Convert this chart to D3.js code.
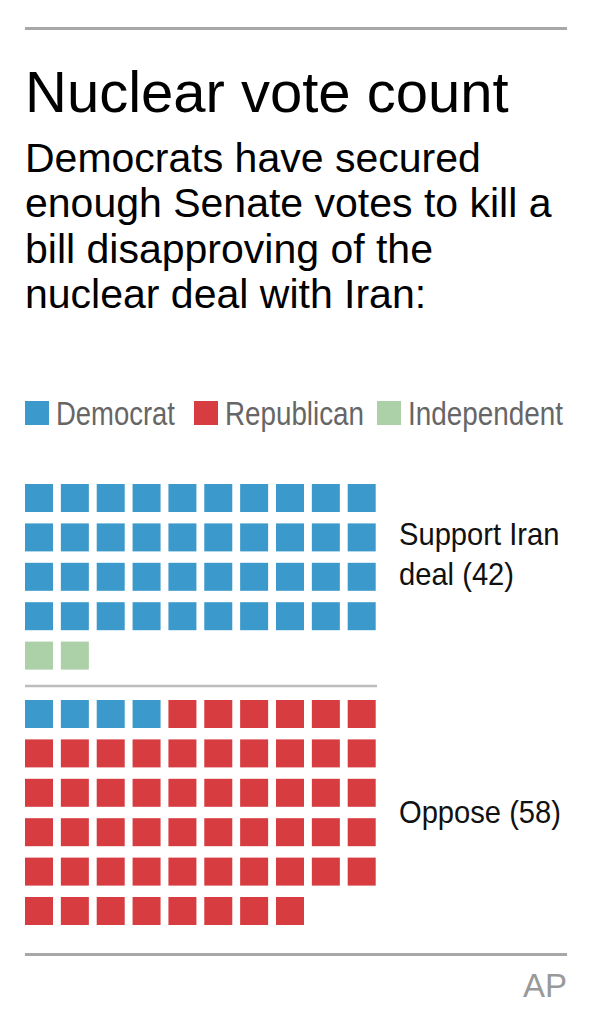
<!DOCTYPE html>
<html>
<head>
<meta charset="utf-8">
<script src="https://cdn.jsdelivr.net/npm/d3@7"></script>
<style>
  html, body { margin: 0; padding: 0; background: #fff; }
  svg { display: block; font-family: "Liberation Sans", Arial, Helvetica, sans-serif; }
</style>
</head>
<body>
<div id="chart"></div>
<script>
// ---- Data ----
const title = "Nuclear vote count";
const subtitleLines = ["Democrats have secured", "enough Senate votes to kill a", "bill disapproving of the", "nuclear deal with Iran:"];
const parties = ["Democrat", "Republican", "Independent"];
const partyColors = ["#3b9acb", "#d73c41", "#acd0a8"];
const groupNames = ["Support", "Oppose"];
const groupLabels = [["Support Iran", "deal (42)"], ["Oppose (58)"]];
const supportVotes = [40, 0, 2];   // Democrat, Republican, Independent
const opposeVotes = [4, 54, 0];
const perRow = 10;
const source = "AP";

// ---- Layout ----
const W = 590, H = 1024;
const svg = d3.select("#chart").append("svg").attr("width", W).attr("height", H);

const color = d3.scaleOrdinal().domain(parties).range(partyColors);
const xCol = d3.scaleLinear().domain([0, perRow - 1]).range([25, 347.7]);
const cell = 28;
const rowPitch = 39.4;

// top rule
svg.append("line").attr("x1", 25).attr("x2", 567).attr("y1", 28.5).attr("y2", 28.5)
  .attr("stroke", "#a8a8a8").attr("stroke-width", 3);

// title
svg.append("text").attr("x", 25).attr("y", 111.5).attr("font-size", 58).attr("fill", "#000").text(title);

// subtitle
const subBase = [172, 217.3, 262.6, 308];
svg.append("g").selectAll("text").data(subtitleLines).join("text")
  .attr("x", 25).attr("y", (d, i) => subBase[i]).attr("font-size", 41).attr("fill", "#000").text(d => d);

// legend
const legendX = [25, 194, 377];
const legendW = [119, 139, 155];
const lg = svg.append("g").selectAll("g").data(parties).join("g")
  .attr("transform", (d, i) => `translate(${legendX[i]},0)`);
lg.append("rect").attr("x", 0).attr("y", 401).attr("width", 24).attr("height", 24).attr("fill", d => color(d));
lg.append("text").attr("x", 0).attr("y", 0).attr("font-size", 33).attr("fill", "#666")
  .text(d => d)
  .each(function (d, i) {
    const w = this.getComputedTextLength();
    const s = legendW[i] / w;
    d3.select(this).attr("transform", `translate(31,424.5) scale(${s},1)`);
  });

// build squares
function expand(votes) {
  const out = [];
  parties.forEach((p, i) => { for (let k = 0; k < votes[i]; k++) out.push(p); });
  return out;
}
const groups = [
  { name: groupNames[0], squares: expand(supportVotes), top: 484, labels: groupLabels[0], labelBase: [545, 585] },
  { name: groupNames[1], squares: expand(opposeVotes), top: 700, labels: groupLabels[1], labelBase: [823.3] }
];

groups.forEach(g => {
  const gg = svg.append("g");
  gg.selectAll("rect").data(g.squares).join("rect")
    .attr("x", (d, i) => xCol(i % perRow))
    .attr("y", (d, i) => g.top + Math.floor(i / perRow) * rowPitch)
    .attr("width", cell).attr("height", cell)
    .attr("fill", d => color(d));
  gg.selectAll("text").data(g.labels).join("text")
    .attr("x", 0).attr("y", 0)
    .attr("font-size", 31).attr("fill", "#111").text(d => d)
    .attr("transform", (d, i) => `translate(399,${g.labelBase[i]}) scale(0.94,1)`);
});

// divider between groups
svg.append("line").attr("x1", 25).attr("x2", 377).attr("y1", 686).attr("y2", 686)
  .attr("stroke", "#bdbdbd").attr("stroke-width", 2.5);

// bottom rule
svg.append("line").attr("x1", 25).attr("x2", 567).attr("y1", 954.5).attr("y2", 954.5)
  .attr("stroke", "#a8a8a8").attr("stroke-width", 3);

// source
svg.append("text").attr("x", 567).attr("y", 997).attr("text-anchor", "end")
  .attr("font-size", 33).attr("fill", "#999").text(source);
</script>
</body>
</html>
